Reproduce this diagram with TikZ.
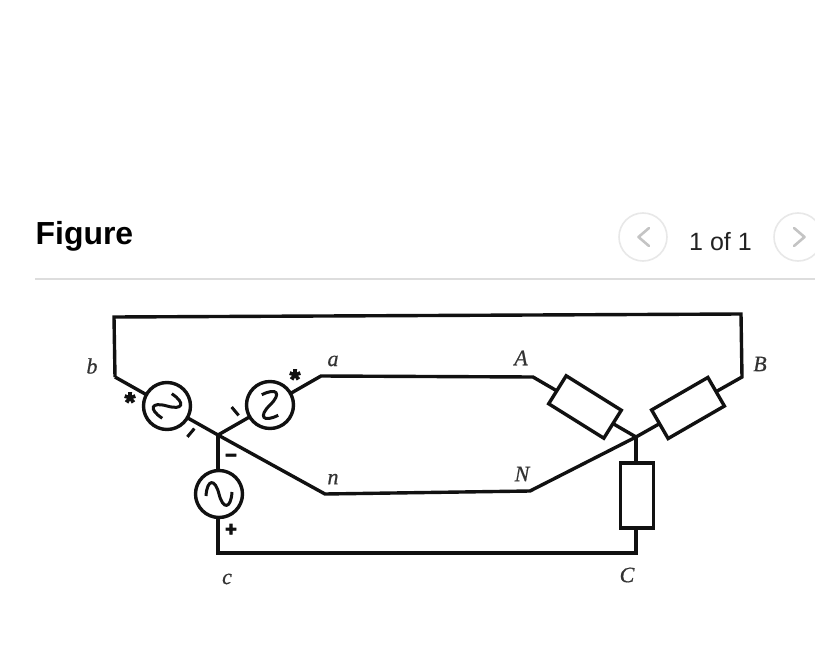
\documentclass[tikz,border=0pt]{standalone}
\usepackage{fontspec}
\setmainfont{Liberation Sans}
\newfontfamily\labelfont[ItalicFeatures={FakeBold=0.6}]{Liberation Serif}
\newfontfamily\signfont[BoldFeatures={FakeBold=4}]{Liberation Sans}
\definecolor{ringgrey}{HTML}{E8E8E8}
\definecolor{chevgrey}{HTML}{C4C4C4}
\definecolor{rulegrey}{HTML}{DDDDDD}
\definecolor{wirecol}{HTML}{111111}
\definecolor{txtcol}{HTML}{222222}
\tikzset{
  wire/.style={draw=wirecol,line width=3.4pt,line join=miter},
  gensrc/.style={circle,draw=wirecol,line width=3.4pt,minimum size=47pt,inner sep=0pt,fill=white},
  loadbox/.style={rectangle,draw=wirecol,line width=3.4pt,minimum width=65pt,minimum height=33pt,inner sep=0pt,fill=white},
  lbl/.style={font=\labelfont\itshape\fontsize{22}{24}\selectfont,text=black!80,inner sep=0pt},
  sign/.style={font=\signfont\bfseries\fontsize{20}{20}\selectfont,text=wirecol,inner sep=0pt},
  starsign/.style={font=\signfont\bfseries\fontsize{27}{27}\selectfont,text=wirecol,inner sep=0pt},
  navring/.style={circle,draw=ringgrey,line width=1.6pt,minimum size=48pt,inner sep=0pt},
  chev/.style={draw=chevgrey,line width=2.6pt,line cap=round,line join=round},
  acwave/.pic={\draw[draw=wirecol,line width=3pt] (-13,2) .. controls (-12,-15) and (-4,-16) .. (0,0) .. controls (4,16) and (12,15) .. (13,-2);}
}
\begin{document}
\begin{tikzpicture}[x=1pt,y=-1pt]
\useasboundingbox (0,0) rectangle (815,648);
\clip (0,0) rectangle (815,648);
\fill[white] (0,0) rectangle (815,648);
% header
\node[anchor=base west,inner sep=0pt,font=\bfseries\fontsize{31.9}{34}\selectfont] (title) at (35.5,244) {Figure};
\node[navring] (prev) at (643,237) {};
\node[navring] (next) at (798,237) {};
\node[anchor=base,inner sep=0pt,font=\fontsize{25}{28}\selectfont,text=txtcol] (count) at (720.5,250) {1 of 1};
\draw[chev] (649,228) -- (638.5,237) -- (649,246);
\draw[chev] (794,228) -- (804.5,237) -- (794,246);
\coordinate (ruleL) at (35,279);
\coordinate (ruleR) at (815,279);
\draw[draw=rulegrey,line width=1.5pt] (ruleL) -- (ruleR);
% junctions and corners
\coordinate (srcstar) at (218,435);
\coordinate (loadstar) at (636,437);
\coordinate (tl) at (114,317);
\coordinate (tr) at (741,314);
\coordinate (bcorner) at (115,377);
\coordinate (Bcorner) at (742,377);
\coordinate (acorner) at (321,376);
\coordinate (Acorner) at (533,377);
\coordinate (ncorner) at (325,494);
\coordinate (Ncorner) at (530,491);
\coordinate (ccorner) at (218,553);
\coordinate (Ccorner) at (636,553);
% wires
\draw[wire] (bcorner) -- (tl) -- (tr) -- (Bcorner) -- (loadstar);
\draw[wire] (bcorner) -- (srcstar);
\draw[wire] (srcstar) -- (acorner) -- (Acorner) -- (loadstar);
\draw[wire] (srcstar) -- (ncorner) -- (Ncorner) -- (loadstar);
\draw[wire] (srcstar) -- (ccorner) -- (Ccorner) -- (loadstar);
% sources
\node[gensrc] (gb) at (167,406) {};
\node[gensrc] (ga) at (270,405) {};
\node[gensrc] (gc) at (219,494) {};
\pic[rotate=60] at (gb) {acwave};
\pic[rotate=-60] at (ga) {acwave};
\pic at (gc) {acwave};
% loads
\node[loadbox,rotate=-32] (la) at (585,407) {};
\node[loadbox,rotate=30] (lb) at (688,408) {};
\node[loadbox,rotate=90] (lc) at (637,495.5) {};
% labels
\node[lbl] (tb) at (92,366) {b};
\node[lbl] (ta) at (333,361) {a};
\node[lbl] (tn) at (333,479) {n};
\node[lbl] (tc) at (227,579) {c};
\node[lbl] (tA) at (521,358) {A};
\node[lbl] (tB) at (760,364) {B};
\node[lbl] (tN) at (522,474) {N};
\node[lbl] (tC) at (627,575) {C};
% polarity marks
\node[starsign] (sb) at (130,402) {*};
\node[starsign] (sa) at (295,379) {*};
\node[sign,rotate=50] (mb) at (193,434.5) {−};
\node[sign,rotate=-50] (ma) at (233,413) {−};
\node[sign] (mc) at (231,458) {−};
\node[sign] (pc) at (231,530) {+};
\end{tikzpicture}
\end{document}
